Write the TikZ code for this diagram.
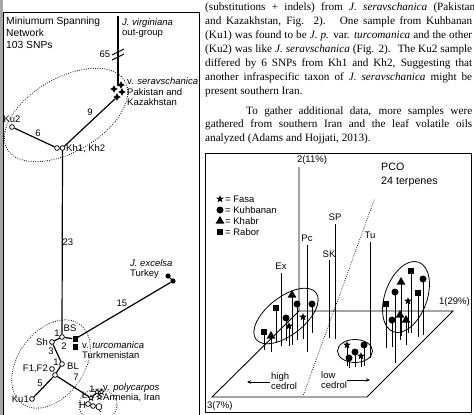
\documentclass[tikz,border=0pt]{standalone}
\usepackage{fontspec}
\setmainfont{Liberation Sans}
\newfontfamily\paperfont{Liberation Serif}
\usetikzlibrary{shapes.geometric,arrows.meta}

\begin{document}
\begin{tikzpicture}[x=1pt,y=-1pt,font=\fontsize{9.5}{10.5}\selectfont,
 smp/.style={circle,draw,fill=white,line width=.75pt,inner sep=0pt,minimum size=4.8pt},
 spr/.style={star,star points=4,star point ratio=2.1,fill,inner sep=0pt,minimum size=7.5pt},
 tsq/.style={rectangle,fill,inner sep=0pt,minimum width=5pt,minimum height=6.5pt},
 xdot/.style={circle,fill,inner sep=0pt,minimum size=5.2pt},
 pstr/.style={star,star points=5,star point ratio=2.4,draw,line width=.6pt,inner sep=0pt,minimum size=6pt},
 edge/.style={line width=1.2pt},
 grp/.style={line width=1.1pt,dash pattern=on 0pt off 2.3pt,line cap=round},
 lab/.style={inner sep=0pt,align=left,anchor=north west},
 wt/.style={inner sep=0pt},
 txt/.style={anchor=base west,inner sep=0pt,font=\paperfont\fontsize{11.2}{13}\selectfont},
 mstar/.style={star,star points=5,star point ratio=2.4,fill,inner sep=0pt,minimum size=8pt},
 mcirc/.style={circle,fill,inner sep=0pt,minimum size=7pt},
 mtri/.style={regular polygon,regular polygon sides=3,fill,inner sep=0pt,minimum size=10pt},
 msq/.style={rectangle,fill,inner sep=0pt,minimum size=6.5pt},
 >={Stealth[length=4pt,width=3.5pt]}]
\useasboundingbox (0,0) rectangle (474,415);
\clip (0,0) rectangle (474,415);

% frames
\fill[black!35] (0,0) rectangle (2.5,415);
\draw[line width=1pt] (3,415) -- (3,12) -- (199,12) -- (199,415);
\draw[line width=1pt] (205,153) rectangle (471,412);

% running text
\node[txt] (t1) at (205,10) {\makebox[270pt][s]{(substitutions + indels) from \textit{J. seravschanica} (Pakistan}};
\node[txt] (t2) at (205,24) {\makebox[267pt][s]{and Kazakhstan, Fig. 2). \ One sample from Kuhbanan}};
\node[txt] (t3) at (205,38) {\makebox[267pt][s]{(Ku1) was found to be \textit{J. p.} var. \textit{turcomanica} and the other}};
\node[txt] (t4) at (205,52) {\makebox[267pt][s]{(Ku2) was like \textit{J. seravschanica} (Fig. 2). \ The Ku2 sample}};
\node[txt] (t5) at (205,66) {\makebox[267pt][s]{differed by 6 SNPs from Kh1 and Kh2, Suggesting that}};
\node[txt] (t6) at (205,80) {\makebox[267pt][s]{another infraspecific taxon of \textit{J. seravschanica} might be}};
\node[txt] (t7) at (205,94) {present southern Iran.};
\node[txt] (t8) at (246,114) {\makebox[226pt][s]{To gather additional data, more samples were}};
\node[txt] (t9) at (205,127.5) {\makebox[267pt][s]{gathered from southern Iran and the leaf volatile oils}};
\node[txt] (t10) at (205,141) {analyzed (Adams and Hojjati, 2013).};

% minimum spanning network
\node[lab,font=\fontsize{10.3}{11.7}\selectfont] (title) at (6,17) {Miniumum Spanning\\Network\\103 SNPs};
\draw[grp] (66,115) ellipse [x radius=68,y radius=37,rotate=30];
\draw[grp] (51,364) ellipse [x radius=49,y radius=33,rotate=54];
\draw[grp] (98,405) ellipse [x radius=19,y radius=16];

\coordinate (vir) at (118,16);
\coordinate (sj) at (118,86);
\node[spr] (s1) at (114,89) {};
\node[spr] (s2) at (121,85) {};
\node[spr] (s3) at (122,92) {};
\node[spr] (s4) at (117,97) {};
\node[smp] (ku2) at (12,127) {};
\node[smp] (kh1) at (57,148) {};
\node[smp] (kh2) at (62.5,148) {};
\node[smp] (bs) at (62,337) {};
\node[smp] (sh) at (52,342) {};
\node[smp] (bl) at (62,364) {};
\node[smp] (f1) at (52,369) {};
\node[smp] (f2) at (55,375) {};
\node[smp] (ku1) at (32,399) {};
\node[tsq] (tk1) at (75,339) {};
\node[tsq] (tk2) at (75,347) {};
\node[xdot] (ex1) at (168,276) {};
\node[xdot] (ex2) at (173,281) {};
\node[pstr] (pa) at (91,398) {};
\node[pstr] (pb) at (97,392) {};
\node[pstr] (pc) at (101.5,392) {};
\node[pstr] (pd) at (99.5,397) {};
\node[smp] (hh) at (88,404) {};
\node[smp] (qq) at (93,406) {};

\draw[edge] (vir) -- (sj);
\draw[line width=.9pt] (112,55) -- (124,49) (112,60) -- (124,54);
\draw[edge] (s4) -- (kh2);
\draw[edge] (ku2) -- (kh1);
\draw[edge] (kh2) -- (bs);
\draw[edge] (bs) -- (sh);
\draw[edge] (bs) -- (tk1);
\draw[edge] (ex1) -- (ex2);
\draw[edge] (ex2) -- (tk1);
\draw[edge] (sh) -- (bl);
\draw[edge] (bl) -- (f2);
\draw[edge] (f2) -- (ku1);
\draw[edge] (f2) -- (pa);
\draw[edge] (pa) -- (pb);

\node[wt] (w65) at (105,54) {65};
\node[wt] (w9) at (90,112) {9};
\node[wt] (w6) at (38,133) {6};
\node[wt] (w23) at (68,242) {23};
\node[wt] (w15) at (122,303) {15};
\node[wt] (w1a) at (57,333) {1};
\node[wt] (w2) at (64,346) {2};
\node[wt] (w3) at (51,351) {3};
\node[wt] (w1b) at (56,362) {1};
\node[wt] (w5) at (40,383) {5};
\node[wt] (w7) at (76,377) {7};
\node[wt] (w1c) at (92,389) {1};

\node[lab] (virlab) at (122,18) {\textit{J. virginiana}\\out-group};
\node[lab] (serlab) at (127,77.5) {v. \textit{seravschanica}\\Pakistan and\\Kazakhstan};
\node[lab] (exclab) at (130,259) {\textit{J. excelsa}\\Turkey};
\node[lab] (turlab) at (82,341) {v. \textit{turcomanica}\\Turkmenistan};
\node[lab] (pollab) at (103,383) {v. \textit{polycarpos}\\Armenia, Iran};
\node[wt,anchor=west] (khlab) at (66,149) {Kh1, Kh2};
\node[wt] (ku2lab) at (12,119) {Ku2};
\node[wt] (bslab) at (70,328) {BS};
\node[wt,anchor=east] (shlab) at (48,342) {Sh};
\node[wt,anchor=west] (bllab) at (67,366) {BL};
\node[wt,anchor=east] (flab) at (48,369) {F1,F2};
\node[wt,anchor=east] (ku1lab) at (29,399) {Ku1};
\node[wt] (llab) at (84.5,395) {L};
\node[wt] (hlab) at (82.5,405) {H};
\node[wt] (qlab) at (99,408) {Q};

% PCO plot
\node[lab,font=\fontsize{10.7}{14}\selectfont] (pco) at (381,163) {PCO\\24 terpenes};
\coordinate (o) at (299,311);
\coordinate (ax1) at (453,311);
\coordinate (ax2) at (299,167);
\coordinate (ax3) at (212,397);
\coordinate (c4) at (367,397);
\draw[line width=.9pt] (ax2) -- (o) -- (ax1) -- (c4) -- (ax3) -- (o);
\node[wt] (a2lab) at (312,160) {2(11\%)};
\node[wt,anchor=east] (a1lab) at (470,302) {1(29\%)};
\node[wt,anchor=west] (a3lab) at (207,406) {3(7\%)};
\draw[line width=1pt,dash pattern=on 0pt off 2.2pt,line cap=round] (374,200) -- (303,396);
\node[lab] (hilab) at (271,372) {high\\cedrol};
\node[lab] (lolab) at (321,371) {low\\cedrol};
\draw[->,line width=.8pt] (270,382) -- (247,382);
\draw[->,line width=.8pt] (347,380) -- (370,380);

% reference junipers
\foreach \nm/\x/\ly/\t/\b in {Ex/281/266/273/346,Pc/307/238/245/352,SK/329/254/260/338,SP/335/217/224/339,Tu/370/235/242/358}
 {\node[wt] (r\nm) at (\x,\ly) {\nm};
  \draw[line width=1pt] (\x,\t) -- (\x,\b);}

% samples
\draw[line width=.8pt] (286,316) ellipse [x radius=38,y radius=19,rotate=38];
\draw[line width=.8pt] (355,351) ellipse [x radius=17.5,y radius=11.5];
\draw[line width=.8pt] (406,297) ellipse [x radius=37,y radius=21,rotate=70];
\foreach \x/\y/\b/\s in {292/295/345/tri,276/308/343/sq,297/304/340/circ,312/304/333/circ,286/318/341/circ,303/317/339/star,289/326/346/star,264/332/350/sq,271/336/352/tri,
 347/345/366/star,364/345/366/circ,355/352/367/circ,361/356/367/star,349/358/368/circ,
 411/271/333/sq,423/279/335/circ,401/282/336/tri,395/292/363/circ,418/293/337/sq,408/301/333/star,386/304/348/sq,392/320/347/circ,400/315/340/tri,406/320/345/tri}
 {\draw[line width=1pt] (\x,\b) -- (\x,\y);
  \node[m\s] (m\x) at (\x,\y) {};}

% legend
\foreach \s/\nm [count=\i] in {star/Fasa,circ/Kuhbanan,tri/Khabr,sq/Rabor}
 {\node[m\s] (k\i) at (220,188+11*\i) {};
  \node[wt,anchor=west] (kl\i) at (225,188+11*\i) {= \nm};}
\end{tikzpicture}
\end{document}
